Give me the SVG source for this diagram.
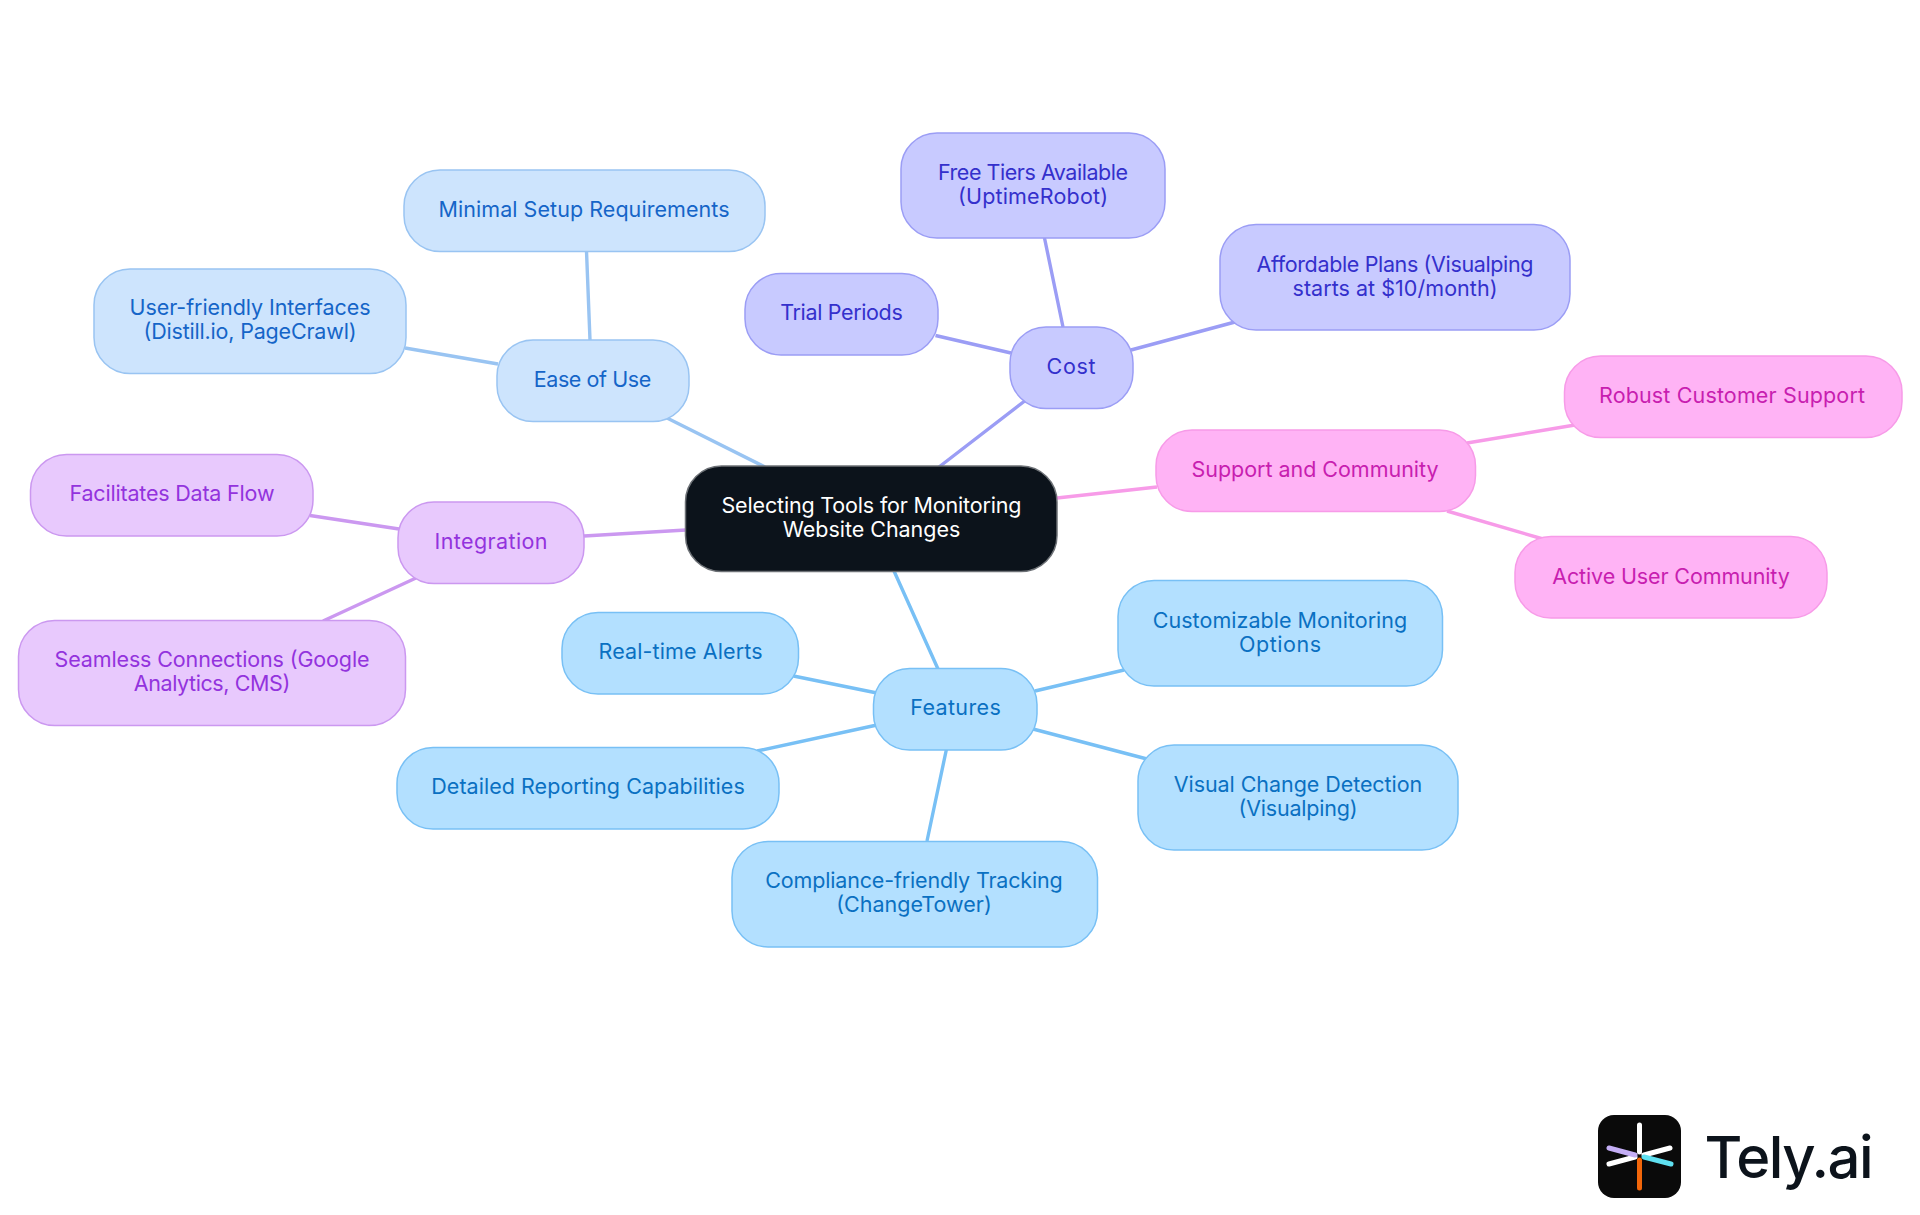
<svg xmlns="http://www.w3.org/2000/svg" width="1920" height="1215" viewBox="0 0 1920 1215">
<style>
text{font-family:"Inter","Noto Sans","Liberation Sans",sans-serif;font-size:21.500px;text-anchor:middle;font-weight:400}
.n{stroke-width:1.5}
.l{stroke-width:3.4;fill:none}
.c .n{fill:#0c131b;stroke:#6d7176}.c text{fill:#fff}
.f .n{fill:#b3e0ff;stroke:#78c0f5}.f text{fill:#0a70c2}.lf{stroke:#78c0f5}
.e .n{fill:#cde4fd;stroke:#99c4f2}.e text{fill:#1565c8}.le{stroke:#99c4f2}
.k .n{fill:#c8caff;stroke:#9b9df5}.k text{fill:#3430cc}.lk{stroke:#9b9df5}
.i .n{fill:#e8c9fd;stroke:#cb98f0}.i text{fill:#9333dd}.li{stroke:#cb98f0}
.s .n{fill:#ffb3f5;stroke:#f79be8}.s text{fill:#c81eb0}.ls{stroke:#f79be8}
</style>
<rect width="1920" height="1215" fill="#fff"/>
<g id="connectors">
<path class="l le" d="M667 418L765 467M586.500 251L590 340M405 348L498 364"/>
<path class="l lk" d="M939 467L1026 400M1044.500 238L1063 327M935.500 335.500L1011 353M1131 350L1235 322"/>
<path class="l ls" d="M1057 498L1157 487M1467 443L1575 425M1447 511L1543 539"/>
<path class="l li" d="M686 530L584 536M310 515.500L399 529M323 621L416 578"/>
<path class="l lf" d="M894 571L938 669M793.500 676L877 693M1035 691L1124 670M757 751L877 725M1033 729L1147 759M946.500 749L927 841"/>
</g>
<g id="center" class="c"><rect class="n" x="685.500" y="466" width="371.500" height="105.500" rx="36"/><text x="871.500" y="513" textLength="300">Selecting Tools for Monitoring</text><text x="871.500" y="537" textLength="177.500">Website Changes</text></g>
<g id="ease" class="e"><rect class="n" x="497" y="340" width="192" height="81.500" rx="36"/><text x="592.500" y="387" textLength="117.500">Ease of Use</text></g>
<g id="minimal" class="e"><rect class="n" x="404" y="170" width="361" height="81.500" rx="36"/><text x="584" y="217" textLength="291">Minimal Setup Requirements</text></g>
<g id="userfriendly" class="e"><rect class="n" x="94" y="269" width="312" height="104.500" rx="36"/><text x="250" y="315" textLength="241">User-friendly Interfaces</text><text x="250" y="339" textLength="213">(Distill.io, PageCrawl)</text></g>
<g id="integration" class="i"><rect class="n" x="398" y="502" width="186" height="81.500" rx="36"/><text x="491" y="549" textLength="113">Integration</text></g>
<g id="facilitates" class="i"><rect class="n" x="30.500" y="454.500" width="282.500" height="81.500" rx="36"/><text x="172" y="500.500" textLength="205">Facilitates Data Flow</text></g>
<g id="seamless" class="i"><rect class="n" x="18.500" y="620.500" width="387" height="105" rx="36"/><text x="212" y="667" textLength="315">Seamless Connections (Google</text><text x="212" y="691" textLength="156.500">Analytics, CMS)</text></g>
<g id="cost" class="k"><rect class="n" x="1010" y="327" width="123" height="81.500" rx="36"/><text x="1071" y="374" textLength="49">Cost</text></g>
<g id="free" class="k"><rect class="n" x="901" y="133" width="264" height="105" rx="36"/><text x="1033" y="180" textLength="190">Free Tiers Available</text><text x="1033" y="204" textLength="150">(UptimeRobot)</text></g>
<g id="affordable" class="k"><rect class="n" x="1220" y="224.500" width="350" height="105.500" rx="36"/><text x="1395" y="272" textLength="277">Affordable Plans (Visualping</text><text x="1395" y="296" textLength="205">starts at $10/month)</text></g>
<g id="trial" class="k"><rect class="n" x="745" y="273.500" width="193" height="81.500" rx="36"/><text x="841.500" y="320" textLength="122.500">Trial Periods</text></g>
<g id="support" class="s"><rect class="n" x="1156" y="430" width="319.500" height="81.500" rx="36"/><text x="1315" y="477" textLength="247">Support and Community</text></g>
<g id="robust" class="s"><rect class="n" x="1564.500" y="356" width="337.500" height="81.500" rx="36"/><text x="1732" y="403" textLength="266">Robust Customer Support</text></g>
<g id="active" class="s"><rect class="n" x="1515" y="536.500" width="312" height="81.500" rx="36"/><text x="1671" y="584" textLength="237.500">Active User Community</text></g>
<g id="features" class="f"><rect class="n" x="873.500" y="668.500" width="163.500" height="81.500" rx="36"/><text x="955.500" y="715" textLength="90.500">Features</text></g>
<g id="realtime" class="f"><rect class="n" x="562" y="612.500" width="236.500" height="81.500" rx="36"/><text x="680.500" y="659" textLength="164">Real-time Alerts</text></g>
<g id="customizable" class="f"><rect class="n" x="1118" y="580.500" width="324.500" height="105.500" rx="36"/><text x="1280" y="627.500" textLength="254.500">Customizable Monitoring</text><text x="1280" y="651.500" textLength="82">Options</text></g>
<g id="detailed" class="f"><rect class="n" x="397" y="747.500" width="382" height="81.500" rx="36"/><text x="588" y="794" textLength="313.500">Detailed Reporting Capabilities</text></g>
<g id="visual" class="f"><rect class="n" x="1138" y="745" width="320" height="105" rx="36"/><text x="1298" y="792" textLength="248.500">Visual Change Detection</text><text x="1298" y="816" textLength="119">(Visualping)</text></g>
<g id="compliance" class="f"><rect class="n" x="732" y="841.500" width="365.500" height="105.500" rx="36"/><text x="914" y="888" textLength="297.500">Compliance-friendly Tracking</text><text x="914" y="912" textLength="155.500">(ChangeTower)</text></g>
<g id="logo">
<rect x="1598" y="1115" width="83" height="83" rx="16" fill="#0a0a0a"/>
<g fill="none" stroke-width="5" stroke-linecap="round">
<path stroke="#fff" d="M1639.500 1125V1152M1609 1164L1635 1157M1644 1155L1670 1148"/>
<path stroke="#c4aef5" d="M1609 1148L1635 1155"/>
<path stroke="#5fe0f0" d="M1644 1157L1671 1164"/>
<path stroke="#f2660a" d="M1639.500 1160V1188"/>
</g>
<text x="1789" y="1178" textLength="169" style="font-size:58px;fill:#0c131b;font-weight:500">Tely.ai</text>
</g>
</svg>
